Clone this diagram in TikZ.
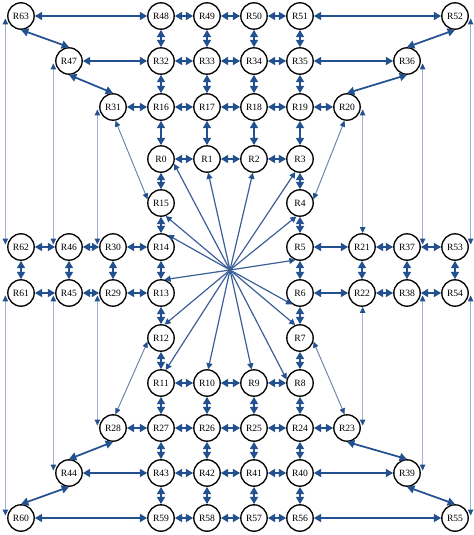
\documentclass[tikz,border=0pt]{standalone}
\usepackage{fontspec}
\setmainfont{Liberation Serif}
\usetikzlibrary{arrows.meta}
\definecolor{linkblue}{RGB}{35,80,143}
\definecolor{hubblue}{RGB}{60,95,152}
\definecolor{crossblue}{RGB}{105,128,168}
\definecolor{sideblue}{RGB}{160,178,205}
\begin{document}
\begin{tikzpicture}[x=0.75pt,y=-0.75pt,
    router/.style={circle, draw=black, line width=1pt, fill=white,
      minimum size=19.8pt, inner sep=0pt, font=\fontsize{7.2}{8}\selectfont},
    link/.style={linkblue, line width=1.3pt,
      {Triangle[length=5.5pt,width=6pt]}-{Triangle[length=5.5pt,width=6pt]}},
    sidelink/.style={sideblue, line width=1pt,
      {Triangle[length=4.5pt,width=4pt,color=linkblue]}-{Triangle[length=4.5pt,width=4pt,color=linkblue]}},
    crosslink/.style={crossblue, line width=0.7pt,
      {Triangle[length=4.5pt,width=4pt,color=linkblue]}-{Triangle[length=4.5pt,width=4pt,color=linkblue]}},
    hublink/.style={hubblue, line width=0.9pt,
      -{Triangle[length=4.5pt,width=4.5pt,color=linkblue]}}]
    \useasboundingbox (0,0) rectangle (474,535);
    % routers, row by row
    \node [router] (R63) at (21,16) {R63}; \node [router] (R48) at
    (161,16) {R48}; \node [router] (R49) at (207,16) {R49}; \node
    [router] (R50) at (254,16) {R50}; \node [router] (R51) at (300,16)
    {R51}; \node [router] (R52) at (455,16) {R52};
    \node [router] (R47) at (69,61) {R47}; \node [router] (R32) at
    (161,61) {R32}; \node [router] (R33) at (207,61) {R33}; \node
    [router] (R34) at (254,61) {R34}; \node [router] (R35) at (300,61)
    {R35}; \node [router] (R36) at (407,61) {R36};
    \node [router] (R31) at (113,107) {R31}; \node [router] (R16) at
    (161,107) {R16}; \node [router] (R17) at (207,107) {R17}; \node
    [router] (R18) at (254,107) {R18}; \node [router] (R19) at
    (300,107) {R19}; \node [router] (R20) at (347,107) {R20};
    \node [router] (R0) at (161,159) {R0}; \node [router] (R1) at
    (207,159) {R1}; \node [router] (R2) at (254,159) {R2}; \node
    [router] (R3) at (300,159) {R3};
    \node [router] (R15) at (161,203) {R15}; \node [router] (R4) at
    (300,203) {R4};
    \node [router] (R62) at (21,247) {R62}; \node [router] (R46) at
    (69,247) {R46}; \node [router] (R30) at (113,247) {R30}; \node
    [router] (R14) at (161,247) {R14}; \node [router] (R5) at
    (300,247) {R5}; \node [router] (R21) at (362,247) {R21}; \node
    [router] (R37) at (407,247) {R37}; \node [router] (R53) at
    (455,247) {R53};
    \node [router] (R61) at (21,293) {R61}; \node [router] (R45) at
    (69,293) {R45}; \node [router] (R29) at (113,293) {R29}; \node
    [router] (R13) at (161,293) {R13}; \node [router] (R6) at
    (300,293) {R6}; \node [router] (R22) at (362,293) {R22}; \node
    [router] (R38) at (407,293) {R38}; \node [router] (R54) at
    (455,293) {R54};
    \node [router] (R12) at (161,338) {R12}; \node [router] (R7) at
    (300,338) {R7};
    \node [router] (R11) at (161,383) {R11}; \node [router] (R10) at
    (207,383) {R10}; \node [router] (R9) at (254,383) {R9}; \node
    [router] (R8) at (300,383) {R8};
    \node [router] (R28) at (113,428) {R28}; \node [router] (R27) at
    (161,428) {R27}; \node [router] (R26) at (207,428) {R26}; \node
    [router] (R25) at (254,428) {R25}; \node [router] (R24) at
    (300,428) {R24}; \node [router] (R23) at (347,428) {R23};
    \node [router] (R44) at (69,473) {R44}; \node [router] (R43) at
    (161,473) {R43}; \node [router] (R42) at (207,473) {R42}; \node
    [router] (R41) at (254,473) {R41}; \node [router] (R40) at
    (300,473) {R40}; \node [router] (R39) at (407,473) {R39};
    \node [router] (R60) at (21,518) {R60}; \node [router] (R59) at
    (161,518) {R59}; \node [router] (R58) at (207,518) {R58}; \node
    [router] (R57) at (254,518) {R57}; \node [router] (R56) at
    (300,518) {R56}; \node [router] (R55) at (455,518) {R55};
    \coordinate (hub) at (230,270);
    % horizontal links
    \draw [link] (R63) -- (R48); \draw [link] (R48) -- (R49); \draw
    [link] (R49) -- (R50); \draw [link] (R50) -- (R51); \draw [link]
    (R51) -- (R52); \draw [link] (R47) -- (R32); \draw [link] (R32) --
    (R33); \draw [link] (R33) -- (R34); \draw [link] (R34) -- (R35);
    \draw [link] (R35) -- (R36); \draw [link] (R31) -- (R16); \draw
    [link] (R16) -- (R17); \draw [link] (R17) -- (R18); \draw [link]
    (R18) -- (R19); \draw [link] (R19) -- (R20); \draw [link] (R0) --
    (R1); \draw [link] (R1) -- (R2); \draw [link] (R2) -- (R3); \draw
    [link] (R62) -- (R46); \draw [link] (R46) -- (R30); \draw [link]
    (R30) -- (R14); \draw [link] (R5) -- (R21); \draw [link] (R21) --
    (R37); \draw [link] (R37) -- (R53); \draw [link] (R61) -- (R45);
    \draw [link] (R45) -- (R29); \draw [link] (R29) -- (R13); \draw
    [link] (R6) -- (R22); \draw [link] (R22) -- (R38); \draw [link]
    (R38) -- (R54); \draw [link] (R11) -- (R10); \draw [link] (R10) --
    (R9); \draw [link] (R9) -- (R8); \draw [link] (R28) -- (R27);
    \draw [link] (R27) -- (R26); \draw [link] (R26) -- (R25); \draw
    [link] (R25) -- (R24); \draw [link] (R24) -- (R23); \draw [link]
    (R44) -- (R43); \draw [link] (R43) -- (R42); \draw [link] (R42) --
    (R41); \draw [link] (R41) -- (R40); \draw [link] (R40) -- (R39);
    \draw [link] (R60) -- (R59); \draw [link] (R59) -- (R58); \draw
    [link] (R58) -- (R57); \draw [link] (R57) -- (R56); \draw [link]
    (R56) -- (R55);
    % vertical links
    \draw [link] (R48) -- (R32); \draw [link] (R49) -- (R33); \draw
    [link] (R50) -- (R34); \draw [link] (R51) -- (R35); \draw [link]
    (R32) -- (R16); \draw [link] (R33) -- (R17); \draw [link] (R34) --
    (R18); \draw [link] (R35) -- (R19); \draw [link] (R16) -- (R0);
    \draw [link] (R17) -- (R1); \draw [link] (R18) -- (R2); \draw
    [link] (R19) -- (R3); \draw [link] (R0) -- (R15); \draw [link]
    (R15) -- (R14); \draw [link] (R14) -- (R13); \draw [link] (R13) --
    (R12); \draw [link] (R12) -- (R11); \draw [link] (R3) -- (R4);
    \draw [link] (R4) -- (R5); \draw [link] (R5) -- (R6); \draw [link]
    (R6) -- (R7); \draw [link] (R7) -- (R8); \draw [link] (R62) --
    (R61); \draw [link] (R46) -- (R45); \draw [link] (R30) -- (R29);
    \draw [link] (R21) -- (R22); \draw [link] (R37) -- (R38); \draw
    [link] (R53) -- (R54); \draw [link] (R11) -- (R27); \draw [link]
    (R10) -- (R26); \draw [link] (R9) -- (R25); \draw [link] (R8) --
    (R24); \draw [link] (R27) -- (R43); \draw [link] (R26) -- (R42);
    \draw [link] (R25) -- (R41); \draw [link] (R24) -- (R40); \draw
    [link] (R43) -- (R59); \draw [link] (R42) -- (R58); \draw [link]
    (R41) -- (R57); \draw [link] (R40) -- (R56);
    % corner links
    \draw [link] (R63.south) -- (R47.north); \draw [link] (R47.south)
    -- (R31.north); \draw [link] (R52.south) -- (R36.north); \draw
    [link] (R36.south) -- (R20.north); \draw [link] (R28.south) --
    (R44.north); \draw [link] (R44.south) -- (R60.north); \draw [link]
    (R23.south) -- (R39.north); \draw [link] (R39.south) --
    (R55.north);
    % long side links
    \draw [sidelink] ([xshift=-1.5pt]R63.190) -- ([xshift=-1.5pt]R62.170);
    \draw [sidelink] ([xshift=-1.5pt]R61.190) -- ([xshift=-1.5pt]R60.170);
    \draw [sidelink] ([xshift=-1.5pt]R47.190) -- ([xshift=-1.5pt]R46.170);
    \draw [sidelink] ([xshift=-1.5pt]R45.190) -- ([xshift=-1.5pt]R44.170);
    \draw [sidelink] ([xshift=-1.5pt]R31.190) -- ([xshift=-1.5pt]R30.170);
    \draw [sidelink] ([xshift=-1.5pt]R29.190) -- ([xshift=-1.5pt]R28.170);
    \draw [sidelink] ([xshift=1.5pt]R52.-10) -- ([xshift=1.5pt]R53.10);
    \draw [sidelink] ([xshift=1.5pt]R54.-10) -- ([xshift=1.5pt]R55.10);
    \draw [sidelink] ([xshift=1.5pt]R36.-10) -- ([xshift=1.5pt]R37.10);
    \draw [sidelink] ([xshift=1.5pt]R38.-10) -- ([xshift=1.5pt]R39.10);
    \draw [sidelink] ([xshift=1.5pt]R20.-10) -- ([xshift=1.5pt]R20.-10 |- R21.north);
    \draw [sidelink] ([xshift=1.5pt]R23.10 |- R22.south) -- ([xshift=1.5pt]R23.10);
    % cross links
    \draw [crosslink] (R31.-80) -- (R15.165); \draw [crosslink]
    (R20.-100) -- (R4.15); \draw [crosslink] (R28.80) -- (R12.-165);
    \draw [crosslink] (R23.100) -- (R7.-15);
    % hub
    \draw [hublink] (hub) -- (R0.-20); \draw [hublink] (hub) --
    (R1.-85); \draw [hublink] (hub) -- (R2.-95); \draw [hublink] (hub)
    -- (R3.-110); \draw [hublink] (hub) -- (R4.-105); \draw [hublink]
    (hub) -- (R5.-110); \draw [hublink] (hub) -- (R6.-125); \draw
    [hublink] (hub) -- (R7.110); \draw [hublink] (hub) -- (R8.165);
    \draw [hublink] (hub) -- (R9.100); \draw [hublink] (hub) --
    (R10.85); \draw [hublink] (hub) -- (R11.70); \draw [hublink] (hub)
    -- (R12.75); \draw [hublink] (hub) -- (R13.75); \draw [hublink]
    (hub) -- (R14.60); \draw [hublink] (hub) -- (R15.-70);
  \end{tikzpicture}
\end{document}
